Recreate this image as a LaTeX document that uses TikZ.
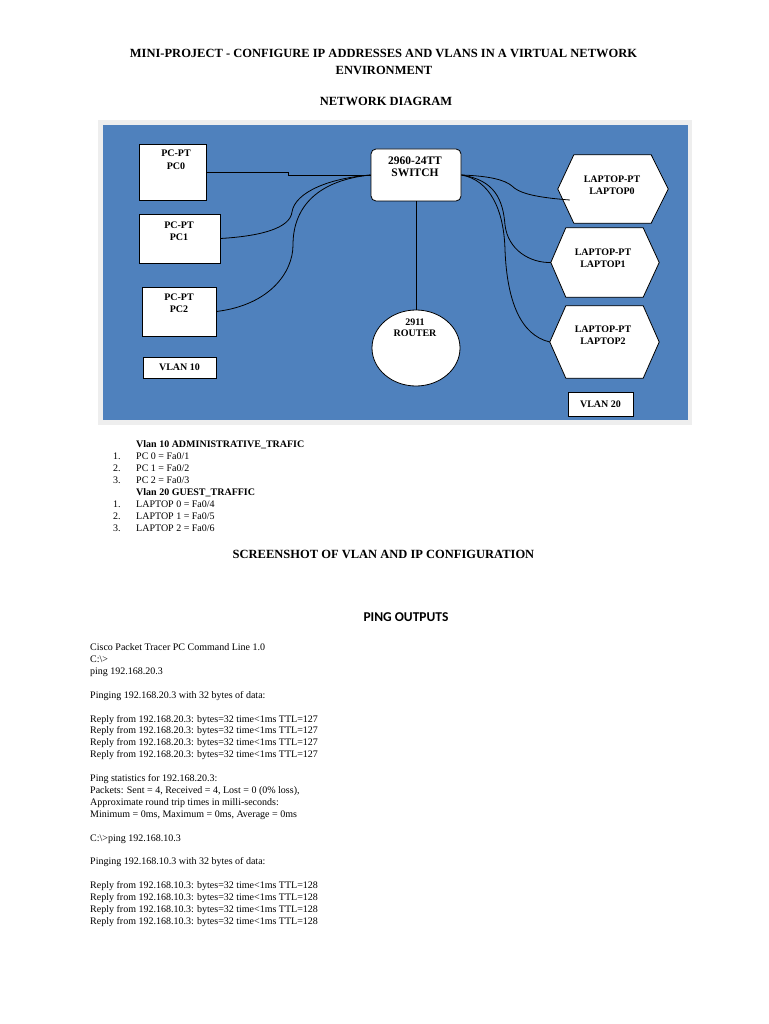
\documentclass[tikz,border=0pt]{standalone}
\usepackage{fontspec}
\setmainfont{Liberation Serif}
\newfontfamily\carlitofont{Carlito}
\usetikzlibrary{calc,shapes.geometric}
\definecolor{diagblue}{RGB}{79,129,189}
\definecolor{framegrey}{RGB}{238,238,238}
\begin{document}
\begin{tikzpicture}[x=1pt,y=-1pt,
  box/.style={draw=black, fill=white, line width=0.8pt, inner sep=0pt},
  lbl/.style={font=\fontsize{10}{12}\selectfont\bfseries, align=center, inner sep=0pt},
  txt/.style={font=\fontsize{10}{12}\selectfont, anchor=base west, inner sep=0pt},
  btxt/.style={txt, font=\fontsize{10}{12}\selectfont\bfseries},
  ttl/.style={font=\fontsize{12.5}{15}\selectfont\bfseries, anchor=base, inner sep=0pt},
  link/.style={line width=0.8pt, draw=black}]
\useasboundingbox[fill=white] (0,0) rectangle (768,1024);

% titles
\node[ttl] (t1) at (383.5,57.1) {MINI-PROJECT - CONFIGURE IP ADDRESSES AND VLANS IN A VIRTUAL NETWORK};
\node[ttl] (t2) at (384,74.1) {ENVIRONMENT};
\node[ttl] (t3) at (386,105.1) {NETWORK DIAGRAM};

% panel
\node[fill=framegrey, minimum width=594, minimum height=305, inner sep=0pt] (frame) at (395,272.5) {};
\node[fill=diagblue, minimum width=585, minimum height=295, inner sep=0pt] (panel) at (395.5,272.5) {};

% boxes
\node[box, minimum width=67, minimum height=56] (pc0) at (172.5,172) {};
\node[box, minimum width=81, minimum height=49] (pc1) at (179.5,238.5) {};
\node[box, minimum width=74, minimum height=49] (pc2) at (179,311.5) {};
\node[box, lbl, minimum width=73, minimum height=21] (v10) at (179.5,367.5) {VLAN 10};
\node[box, lbl, minimum width=65, minimum height=24] (v20) at (600.5,404) {VLAN 20};
\node[box, rounded corners=5pt, minimum width=90, minimum height=52] (sw) at (416,175) {};
\node[box, ellipse, minimum width=88, minimum height=76] (rt) at (416,348) {};

% hexagons
\node[minimum width=110, minimum height=68, inner sep=0pt] (lap0) at (613,189) {};
\node[minimum width=108, minimum height=69, inner sep=0pt] (lap1) at (605,262.5) {};
\node[minimum width=109, minimum height=72, inner sep=0pt] (lap2) at (604.5,342) {};
\draw[box] (lap0.west) -- ($(lap0.north west)+(16,0)$) -- ($(lap0.north east)+(-17,0)$) -- (lap0.east) -- ($(lap0.south east)+(-17,0)$) -- ($(lap0.south west)+(16,0)$) -- cycle;
\draw[box] (lap1.west) -- ($(lap1.north west)+(15,0)$) -- ($(lap1.north east)+(-16,0)$) -- (lap1.east) -- ($(lap1.south east)+(-16,0)$) -- ($(lap1.south west)+(15,0)$) -- cycle;
\draw[box] (lap2.west) -- ($(lap2.north west)+(16,0)$) -- ($(lap2.north east)+(-16,0)$) -- (lap2.east) -- ($(lap2.south east)+(-16,0)$) -- ($(lap2.south west)+(16,0)$) -- cycle;

% connectors
\draw[link] (pc0.east) -- ++(82,0) -- ++(0,3) -- (sw.west);
\draw[link] (pc1.east) .. controls (262,236) and (290,228) .. (292,212) .. controls (295,192) and (330,178) .. (sw.west);
\draw[link] (pc2.east) .. controls (270,305) and (293,272) .. (293,245) .. controls (293,205) and (320,180) .. (sw.west);
\draw[link] (sw.south) -- (rt.north);
\draw[link] (sw.east) .. controls (490,176) and (505,180) .. (512,186) .. controls (518,192) and (530,197) .. ($(lap0.west)+(12,11)$);
\draw[link] (sw.east) .. controls (495,180) and (503,200) .. (505,225) .. controls (508,250) and (530,263) .. (lap1.west);
\draw[link] (sw.east) .. controls (490,180) and (504,210) .. (505,250) .. controls (507,300) and (520,335) .. (lap2.west);

% labels
\node[lbl, font=\fontsize{10}{13}\selectfont\bfseries] (pc0l) at (176,159.5) {PC-PT\\PC0};
\node[lbl] (pc1l) at (179,231) {PC-PT\\PC1};
\node[lbl] (pc2l) at (179,303) {PC-PT\\PC2};
\node[lbl, font=\fontsize{11.5}{12.5}\selectfont\bfseries] (swl) at (415,167) {2960-24TT\\SWITCH};
\node[lbl, font=\fontsize{10}{11.5}\selectfont\bfseries] (rtl) at (415,327.5) {2911\\ROUTER};
\node[lbl] (lap0l) at (612,185) {LAPTOP-PT\\LAPTOP0};
\node[lbl] (lap1l) at (603,258) {LAPTOP-PT\\LAPTOP1};
\node[lbl] (lap2l) at (603,335) {LAPTOP-PT\\LAPTOP2};

% vlan list
\node[btxt] (h10) at (136,447.5) {Vlan 10 ADMINISTRATIVE\_TRAFIC};
\node[txt] (n1) at (113,459.5) {1.};
\node[txt] (i1) at (136,459.5) {PC 0 = Fa0/1};
\node[txt] (n2) at (113,471.5) {2.};
\node[txt] (i2) at (136,471.5) {PC 1 = Fa0/2};
\node[txt] (n3) at (113,483.5) {3.};
\node[txt] (i3) at (136,483.5) {PC 2 = Fa0/3};
\node[btxt] (h20) at (136,495.5) {Vlan 20 GUEST\_TRAFFIC};
\node[txt] (n4) at (113,507.5) {1.};
\node[txt] (i4) at (136,507.5) {LAPTOP 0 = Fa0/4};
\node[txt] (n5) at (113,519.5) {2.};
\node[txt] (i5) at (136,519.5) {LAPTOP 1 = Fa0/5};
\node[txt] (n6) at (113,531.5) {3.};
\node[txt] (i6) at (136,531.5) {LAPTOP 2 = Fa0/6};

% section titles
\node[ttl] (t4) at (383.5,558.1) {SCREENSHOT OF VLAN AND IP CONFIGURATION};
\node[ttl, font=\carlitofont\fontsize{13.5}{16}\selectfont\bfseries] (t5) at (406,621.3) {PING OUTPUTS};

% ping output
\node[txt] (p0) at (90,650.5) {Cisco Packet Tracer PC Command Line 1.0};
\node[txt] (p1) at (90,662.4) {C:\textbackslash>};
\node[txt] (p2) at (90,674.3) {ping 192.168.20.3};
\node[txt] (p4) at (90,698.1) {Pinging 192.168.20.3 with 32 bytes of data:};
\node[txt] (p6) at (90,722.0) {Reply from 192.168.20.3: bytes=32 time<1ms TTL=127};
\node[txt] (p7) at (90,733.9) {Reply from 192.168.20.3: bytes=32 time<1ms TTL=127};
\node[txt] (p8) at (90,745.8) {Reply from 192.168.20.3: bytes=32 time<1ms TTL=127};
\node[txt] (p9) at (90,757.7) {Reply from 192.168.20.3: bytes=32 time<1ms TTL=127};
\node[txt] (p11) at (90,781.5) {Ping statistics for 192.168.20.3:};
\node[txt] (p12) at (90,793.4) {Packets: Sent = 4, Received = 4, Lost = 0 (0\% loss),};
\node[txt] (p13) at (90,805.3) {Approximate round trip times in milli-seconds:};
\node[txt] (p14) at (90,817.2) {Minimum = 0ms, Maximum = 0ms, Average = 0ms};
\node[txt] (p16) at (90,841.1) {C:\textbackslash>ping 192.168.10.3};
\node[txt] (p18) at (90,864.9) {Pinging 192.168.10.3 with 32 bytes of data:};
\node[txt] (p20) at (90,888.7) {Reply from 192.168.10.3: bytes=32 time<1ms TTL=128};
\node[txt] (p21) at (90,900.6) {Reply from 192.168.10.3: bytes=32 time<1ms TTL=128};
\node[txt] (p22) at (90,912.5) {Reply from 192.168.10.3: bytes=32 time<1ms TTL=128};
\node[txt] (p23) at (90,924.4) {Reply from 192.168.10.3: bytes=32 time<1ms TTL=128};
\end{tikzpicture}
\end{document}
